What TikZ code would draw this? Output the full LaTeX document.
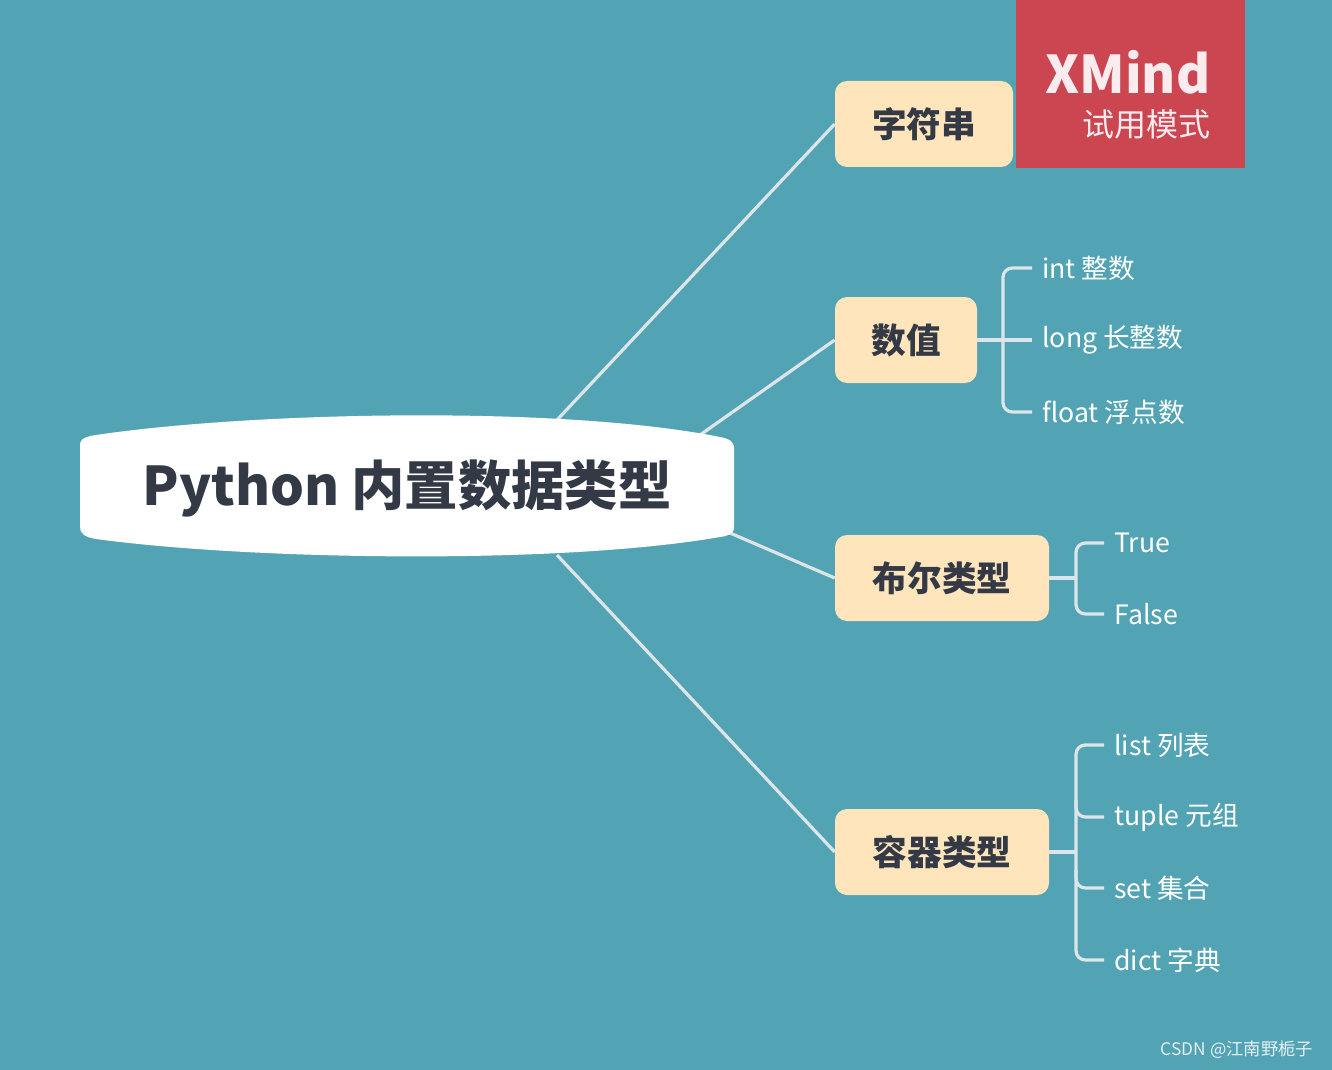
\documentclass[tikz,border=0pt]{standalone}
\usepackage{fontspec}
\usetikzlibrary{calc}
\newfontfamily\cjk{Noto Sans CJK SC}
\definecolor{bg}{HTML}{52A3B4}
\definecolor{topic}{HTML}{FFE5BC}
\definecolor{ink}{HTML}{333A45}
\definecolor{xred}{HTML}{CC4652}
\definecolor{ln}{HTML}{DCE6EA}
\begin{document}
\begin{tikzpicture}[x=0.75pt,y=-0.75pt,
  topicbox/.style={fill=topic,rounded corners=9pt,minimum height=64.5pt,inner xsep=0pt,font=\cjk\fontsize{26}{30}\selectfont\bfseries,text=ink},
  leaf/.style={anchor=west,inner sep=0pt,text=white,font=\cjk\fontsize{20}{24}\selectfont},
  conn/.style={ln,line width=2.4pt},
  brk/.style={ln,line width=2.4pt,rounded corners=7pt}]
\fill[bg] (0,0) rectangle (1332,1070);
\useasboundingbox (0,0) rectangle (1332,1070);
% XMind badge
\fill[xred] (1016,0) rectangle (1245,168);
\node[anchor=east,text=white!90!xred,font=\cjk\fontsize{39}{44}\selectfont\bfseries] (xm) at (1215,72) {XMind};
\node[anchor=east,text=white!90!xred,font=\cjk\fontsize{24}{28}\selectfont] (xt) at (1215,124) {试用模式};
% topics
\node[topicbox,minimum width=133.5pt] (s) at (924,124) {字符串};
\node[topicbox,minimum width=106.5pt] (n) at (906,340) {数值};
\node[topicbox,minimum width=160.5pt] (b) at (942,578) {布尔类型};
\node[topicbox,minimum width=160.5pt] (c) at (942,852) {容器类型};
% central connectors
\coordinate (m1) at (557,420); \coordinate (m2) at (700,435);
\coordinate (m3) at (730,533); \coordinate (m4) at (557,555);
\draw[conn] (m1) -- (s.west);
\draw[conn] (m2) -- (n.west);
\draw[conn] (m3) -- (b.west);
\draw[conn] (m4) -- (c.west);
% central node
\fill[white] (80,445) .. controls (80,437) and (90,436) .. (96,435)
  .. controls (250,412) and (560,405) .. (720,437)
  .. controls (733,439) and (734,445) .. (734,448)
  -- (734,527) .. controls (734,534) and (728,536) .. (720,537)
  .. controls (560,565) and (250,560) .. (96,539)
  .. controls (84,537) and (80,533) .. (80,527) -- cycle;
\node[text=ink,font=\cjk\fontsize{40}{46}\selectfont\bfseries] (root) at (407,489) {Python 内置数据类型};
% numeric children
\node[leaf] (i1) at (1042,268) {int 整数};
\node[leaf] (i2) at (1042,340) {long 长整数};
\node[leaf] (i3) at (1042,412) {float 浮点数};
\draw[conn] (n.east) -- ($(i2.west)+(-10,0)$);
\draw[brk] ($(i1.west)+(-10,0)$) -- (1003,268) -- (1003,412) -- ($(i3.west)+(-10,0)$);
% bool children
\node[leaf] (t1) at (1114,543) {True};
\node[leaf] (t2) at (1114,614) {False};
\draw[conn] (b.east) -- (1076,578);
\draw[brk] ($(t1.west)+(-10,0)$) -- (1076,543) -- (1076,614) -- ($(t2.west)+(-10,0)$);
% container children
\node[leaf] (c1) at (1114,745) {list 列表};
\node[leaf] (c2) at (1114,817) {tuple 元组};
\node[leaf] (c3) at (1114,888) {set 集合};
\node[leaf] (c4) at (1114,960) {dict 字典};
\draw[conn] (c.east) -- (1076,852);
\draw[brk] ($(c1.west)+(-10,0)$) -- (1076,745) -- (1076,960) -- ($(c4.west)+(-10,0)$);
\draw[brk] (1076,800) -- (1076,817) -- ($(c2.west)+(-10,0)$);
\draw[brk] (1076,870) -- (1076,888) -- ($(c3.west)+(-10,0)$);
% watermark
\node[anchor=east,text=white!85!bg,font=\cjk\fontsize{13}{15}\selectfont] (wm) at (1318,1050) {CSDN @江南野栀子};
\end{tikzpicture}
\end{document}
